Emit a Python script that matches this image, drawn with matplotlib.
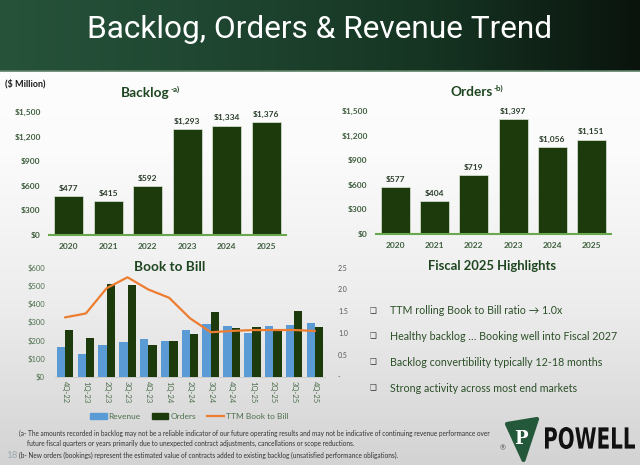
import matplotlib
matplotlib.use('Agg')
import matplotlib.pyplot as plt
import numpy as np
from matplotlib.colors import LinearSegmentedColormap
from matplotlib.patches import Polygon, Patch, PathPatch
from matplotlib.lines import Line2D
from matplotlib.textpath import TextPath
from matplotlib.font_manager import FontProperties
from matplotlib.transforms import Affine2D

# --- data ---
years = ['2020', '2021', '2022', '2023', '2024', '2025']
backlog = [477, 415, 592, 1293, 1334, 1376]
orders_fy = [577, 404, 719, 1397, 1056, 1151]

quarters = ['4Q-22', '1Q-23', '2Q-23', '3Q-23', '4Q-23', '1Q-24', '2Q-24',
            '3Q-24', '4Q-24', '1Q-25', '2Q-25', '3Q-25', '4Q-25']
revenue_q = [161, 125, 172, 191, 209, 194, 255, 288, 277, 242, 279, 286, 298]
orders_q = [259, 213, 510, 506, 172, 196, 237, 358, 268, 272, 255, 363, 272]
book_to_bill = [1.36, 1.45, 2.03, 2.28, 2.00, 1.81, 1.34, 1.02, 1.05, 1.07, 1.07, 1.07, 1.05]

money_ticks = [0, 300, 600, 900, 1200, 1500]
q_ticks = [0, 100, 200, 300, 400, 500, 600]
btb_ticks = [0, 0.5, 1.0, 1.5, 2.0, 2.5]
btb_labels = ['-', '0.5', '1.0', '1.5', '2.0', '2.5']

highlights = [
    'TTM rolling Book to Bill ratio \u2192 1.0x',
    'Healthy backlog \u2026 Booking well into Fiscal 2027',
    'Backlog convertibility typically 12-18 months',
    'Strong activity across most end markets',
]

note_a1 = ('(a- The amounts recorded in backlog may not be a reliable indicator of our future operating '
           'results and may not be indicative of continuing revenue performance over')
note_a2 = ('future fiscal quarters or years primarily due to unexpected contract adjustments, '
           'cancellations or scope reductions.')
note_b = ('(b- New orders (bookings) represent the estimated value of contracts added to existing '
          'backlog (unsatisfied performance obligations).')

# --- style ---
BAR = '#1c3a0c'
BLUE = '#5b9bd5'
ORANGE = '#ed7d31'
TITLE_GREEN = '#1e4620'
TICK = '#3f5f3f'
BASE = '#6aa84f'
plt.rcParams['font.family'] = ['Lato', 'DejaVu Sans']

W, H = 640, 465
fig = plt.figure(figsize=(6.4, 4.65), dpi=100)


def px(x0, y0, x1, y1):
    return [x0 / W, 1 - y1 / H, (x1 - x0) / W, (y1 - y0) / H]


def ftext(x, y, s, **kw):
    return fig.text(x / W, 1 - y / H, s, **kw)


def boxed_word(s, x0, y0, x1, y1, color, family='DejaVu Sans'):
    # text squeezed into a pixel box (for the condensed logo lettering)
    tp = TextPath((0, 0), s, size=100, prop=FontProperties(family=family, weight='bold'))
    bb = tp.get_extents()
    tr = (Affine2D().translate(-bb.x0, -bb.y0)
          .scale((x1 - x0) / bb.width, (y1 - y0) / bb.height)
          .translate(x0, H - y1))
    fig.add_artist(PathPatch(tp, transform=tr, facecolor=color, edgecolor='none'))


# background gradient
bg = fig.add_axes([0, 0, 1, 1], zorder=-10)
grad = np.linspace(0, 1, 256).reshape(-1, 1)
bg_cmap = LinearSegmentedColormap.from_list('bg', ['#d3d3d3', '#ececec', '#fbfbfb', '#ffffff'])
bg.imshow(grad, cmap=bg_cmap, aspect='auto', extent=[0, 1, 0, 1], origin='lower')
bg.set_axis_off()

# header band
hd = fig.add_axes(px(0, 0, 640, 71), zorder=-5)
hgrad = np.linspace(0, 1, 256).reshape(1, -1)
hd_cmap = LinearSegmentedColormap.from_list('hd', ['#27533a', '#1f4631', '#163523', '#0a140d'])
hd.imshow(hgrad, cmap=hd_cmap, aspect='auto', extent=[0, 1, 0, 1])
hd.set_axis_off()
fig.add_artist(Line2D([0, 1], [1 - 71.5 / H] * 2, color='#5d7f66', lw=1.2, transform=fig.transFigure))
ftext(320, 29, 'Backlog, Orders & Revenue Trend', fontsize=22.8, color='white',
      family='Roboto', ha='center', va='center')

ftext(5, 84, '($ Million)', fontsize=6.5, fontweight='bold', color='#1a1a1a', va='center')


def annual_chart(rect, values, title, sup, title_x, title_y):
    ax = fig.add_axes(rect)
    ax.patch.set_alpha(0)
    x = np.arange(len(years))
    bars = ax.bar(x, values, width=0.74, color=BAR, edgecolor='#dfe8d8', linewidth=0.5)
    for b, v in zip(bars, values):
        ax.annotate(f'${v:,}', (b.get_x() + b.get_width() / 2, v), xytext=(0, 3),
                    textcoords='offset points', ha='center', va='bottom',
                    fontsize=6, fontweight='bold', color='#2c3e2c')
    ax.set_xlim(-0.5, 5.5)
    ax.set_ylim(0, 1500)
    ax.set_yticks(money_ticks, [f'${t:,}' for t in money_ticks])
    ax.set_xticks(x, years)
    ax.tick_params(length=0, labelsize=6, colors=TICK)
    ax.tick_params(axis='y', pad=6)
    ax.tick_params(axis='x', pad=6)
    for lab in ax.get_xticklabels() + ax.get_yticklabels():
        lab.set_fontweight('bold')
    for s in ['top', 'right', 'left']:
        ax.spines[s].set_visible(False)
    ax.spines['bottom'].set_color(BASE)
    ax.spines['bottom'].set_linewidth(1.5)
    ftext(title_x, title_y, title, fontsize=9.8, fontweight='bold', color=TITLE_GREEN,
          ha='right', va='center')
    ftext(title_x + 0.5, title_y - 4, sup, fontsize=5.8, fontweight='bold', color=TITLE_GREEN,
          ha='left', va='center')
    return ax


annual_chart(px(49, 112, 286, 235), backlog, 'Backlog', '-a)', 170, 93)
annual_chart(px(376, 111, 611, 234), orders_fy, 'Orders', '-b)', 493, 92)

# book to bill
ax = fig.add_axes(px(54.6, 267.7, 325.4, 376.7))
ax.patch.set_alpha(0)
xq = np.arange(len(quarters))
ax.bar(xq - 0.2, revenue_q, width=0.4, color=BLUE, label='Revenue')
ax.bar(xq + 0.2, orders_q, width=0.4, color=BAR, label='Orders')
ax.set_xlim(-0.5, len(quarters) - 0.5)
ax.set_ylim(0, 600)
ax.set_yticks(q_ticks, [f'${t}' for t in q_ticks])
ax.set_xticks(xq, quarters, rotation=-90)
ax.tick_params(length=0, labelsize=5.5, colors='#4f704f')
ax.tick_params(axis='y', pad=7)
ax.tick_params(axis='x', pad=3)
for s in ['top', 'right', 'left']:
    ax.spines[s].set_visible(False)
ax.spines['bottom'].set_color('#c8c8c8')
ax.spines['bottom'].set_linewidth(0.6)
ax2 = ax.twinx()
ax2.plot(xq, book_to_bill, color=ORANGE, lw=1.6, solid_joinstyle='round', solid_capstyle='round')
ax2.set_ylim(0, 2.5)
ax2.set_yticks(btb_ticks, btb_labels)
ax2.tick_params(length=0, labelsize=5, colors='#555555', pad=9)
for s in ax2.spines.values():
    s.set_visible(False)
ftext(170, 267, 'Book to Bill', fontsize=9.8, fontweight='bold', color=TITLE_GREEN,
      ha='center', va='center')

handles = [Patch(color=BLUE), Patch(color=BAR), Line2D([], [], color=ORANGE, lw=1.6)]
fig.legend(handles, ['Revenue', 'Orders', 'TTM Book to Bill'], loc='center',
           bbox_to_anchor=(189 / W, 1 - 416 / H), ncol=3, frameon=False, fontsize=6,
           labelcolor='#4f704f', handlelength=2.0, handleheight=0.7, handletextpad=0.25,
           columnspacing=1.3)

# highlights
ftext(492, 266, 'Fiscal 2025 Highlights', fontsize=9.4, fontweight='bold', color=TITLE_GREEN,
      ha='center', va='center')
for i, line in enumerate(highlights):
    y = [311, 336, 362, 388][i]
    ftext(373, y, '\u2751', fontsize=5.5, color='#333333', family='DejaVu Sans',
          ha='center', va='center')
    ftext(390, y, line, fontsize=7.7, color='#2b4f27', va='center')

# footnotes
ftext(19, 433.6, note_a1, fontsize=4.7, color='#333333', va='center')
ftext(27, 443, note_a2, fontsize=4.7, color='#333333', va='center')
ftext(19, 455, note_b, fontsize=4.7, color='#333333', va='center')
ftext(6, 455, '18', fontsize=7, color='#9aaab0', va='center')

# logo
shield = Polygon([(507 / W, 1 - 424 / H), (537 / W, 1 - 419 / H), (523.5 / W, 1 - 460 / H)],
                 closed=True, transform=fig.transFigure, facecolor='#24583a',
                 edgecolor='#24583a', lw=3, joinstyle='round')
fig.add_artist(shield)
ftext(521, 439, 'P', fontsize=13, fontweight='bold', color='white', family='DejaVu Serif',
      ha='center', va='center')
ftext(503, 448, '\u00ae', fontsize=5, color='#555555', ha='center', va='center')
boxed_word('POWELL', 545, 427, 635, 449, '#111111')

fig.savefig('out.png', dpi=100)
